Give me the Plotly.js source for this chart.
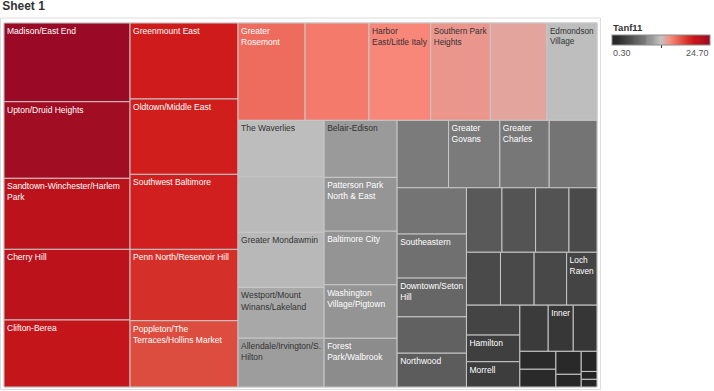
<!DOCTYPE html>
<html><head><meta charset="utf-8">
<script src="https://cdn.plot.ly/plotly-3.0.1.min.js"></script>
<style>html,body{margin:0;padding:0;background:#fff}#chart{width:714px;height:391px}</style>
</head><body><div id="chart"></div>
<script>
// Community areas (unlabelled cells in the reference get placeholder ids)
const neighborhoods = [
  "Madison/East End", "Upton/Druid Heights", "Sandtown-Winchester/Harlem Park", "Cherry Hill", "Clifton-Berea",
  "Greenmount East", "Oldtown/Middle East", "Southwest Baltimore", "Penn North/Reservoir Hill", "Poppleton/The Terraces/Hollins Market",
  "Greater Rosemont", "Area 12", "Harbor East/Little Italy", "Southern Park Heights", "Area 15", "Edmondson Village",
  "The Waverlies", "Area 18", "Greater Mondawmin", "Westport/Mount Winans/Lakeland", "Allendale/Irvington/S. Hilton",
  "Belair-Edison", "Patterson Park North & East", "Baltimore City", "Washington Village/Pigtown", "Forest Park/Walbrook",
  "Area 27", "Greater Govans", "Greater Charles", "Area 30",
  "Area 31", "Southeastern", "Downtown/Seton Hill", "Area 34", "Northwood",
  "Area 36", "Area 37", "Area 38", "Area 39",
  "Area 40", "Area 41", "Area 42", "Loch Raven",
  "Area 44", "Hamilton", "Morrell",
  "Area 47", "Inner", "Area 49",
  "Area 50", "Area 51",
  "Area 52", "Area 53",
  "Area 54", "Area 55", "Area 56"
];
const tanf11 = [
  24.70, 24.04, 22.28, 22.18, 21.02,
  20.44, 20.26, 20.17, 19.18, 17.83,
  16.24, 15.51, 14.95, 14.47, 13.70, 12.15,
  12.10, 11.90, 11.82, 10.88, 10.46,
  10.36, 9.78, 9.74, 9.72, 8.85,
  8.63, 8.61, 8.28, 8.02,
  7.99, 7.60, 6.69, 6.27, 5.83,
  5.70, 5.40, 5.36, 4.50,
  4.48, 4.43, 4.28, 4.00,
  3.98, 3.54, 3.36,
  3.26, 2.88, 2.73,
  1.61, 1.59,
  1.45, 0.80,
  0.79, 0.31, 0.30
];
const cellLabels = [
  "Madison/East End", "Upton/Druid Heights", "Sandtown-Winchester/Harlem<br>Park", "Cherry Hill", "Clifton-Berea",
  "Greenmount East", "Oldtown/Middle East", "Southwest Baltimore", "Penn North/Reservoir Hill", "Poppleton/The<br>Terraces/Hollins Market",
  "Greater<br>Rosemont", "", "Harbor<br>East/Little Italy", "Southern Park<br>Heights", "", "Edmondson<br>Village",
  "The Waverlies", "", "Greater Mondawmin", "Westport/Mount<br>Winans/Lakeland", "Allendale/Irvington/S.<br>Hilton",
  "Belair-Edison", "Patterson Park<br>North & East", "Baltimore City", "Washington<br>Village/Pigtown", "Forest<br>Park/Walbrook",
  "", "Greater<br>Govans", "Greater<br>Charles", "",
  "", "Southeastern", "Downtown/Seton<br>Hill", "", "Northwood",
  "", "", "", "",
  "", "", "", "Loch<br>Raven",
  "", "Hamilton", "Morrell",
  "", "Inner", "",
  "", "",
  "", "",
  "", "", ""
];
const legendTitle = "Tanf11";
const legendMin = 0.30, legendMax = 24.70;

const colorscale = [
  [0.000, '#242424'], [0.060, '#2b2b2b'], [0.120, '#3b3b3b'], [0.160, '#474747'],
  [0.200, '#505050'], [0.230, '#5d5d5d'], [0.300, '#707070'], [0.342, '#7b7b7b'],
  [0.350, '#8c8c8c'], [0.390, '#959595'], [0.412, '#9a9a9a'], [0.434, '#a8a8a8'],
  [0.472, '#b8b8b8'], [0.490, '#c0c0c0'], [0.500, '#c4c4c4'], [0.550, '#e4a39c'],
  [0.580, '#ea978d'], [0.600, '#f8877a'], [0.623, '#f47b6c'], [0.655, '#ee6b5d'],
  [0.720, '#dd4c3e'], [0.775, '#d52e29'], [0.825, '#cf1b1b'], [0.850, '#c4151b'],
  [0.900, '#bb121b'], [0.970, '#a20d22'], [1.000, '#9a0a26']
];
const textColors = tanf11.map(v => (v >= 10 && v <= 15) ? '#333333' : '#ffffff');

const W = 714, H = 391, L = 4, R = 117, T = 23, B = 4;
const pw = W - L - R, ph = H - T - B;
const px = x => (x - L) / pw;
const py = y => (H - B - y) / ph;
const font = 'Arial, Liberation Sans, sans-serif';

const trace = {
  type: 'treemap',
  labels: neighborhoods,
  parents: neighborhoods.map(() => ''),
  values: tanf11,
  text: cellLabels,
  texttemplate: '%{text}',
  textposition: 'top left',
  textfont: {family: font, size: 8.5, color: textColors},
  insidetextfont: {family: font, size: 8.5, color: textColors},
  hoverinfo: 'none',
  sort: true,
  tiling: {packing: 'squarify', squarifyratio: 1.618034, pad: 0},
  pathbar: {visible: false},
  marker: {
    colors: tanf11, colorscale: colorscale, cmin: legendMin, cmax: legendMax,
    showscale: true,
    line: {width: 1, color: '#c8c8c8'},
    pad: {t: 0, l: 0, r: 0, b: 0},
    colorbar: {
      orientation: 'h', x: px(612), xanchor: 'left', y: py(35.5), yanchor: 'top',
      len: 98, lenmode: 'pixels', thickness: 10, xpad: 0, ypad: 0,
      outlinewidth: 1, outlinecolor: '#8c8c8c',
      tickmode: 'array', tickvals: [12.5], ticks: 'outside', ticklen: 3, tickcolor: '#333',
      showticklabels: false, bgcolor: 'rgba(0,0,0,0)', borderwidth: 0
    }
  },
  domain: {x: [0, 1], y: [0, 1]}
};

const layout = {
  width: W, height: H,
  margin: {l: L, r: R, t: T, b: B, autoexpand: false},
  paper_bgcolor: '#ffffff',
  title: {text: 'Sheet 1', xref: 'container', yref: 'container', x: 0.003, xanchor: 'left', y: 0.997, yanchor: 'top',
          font: {family: 'Arial, Liberation Sans, sans-serif', size: 12, color: '#333333', weight: 'bold'}},
  shapes: [{type: 'rect', xref: 'paper', yref: 'paper', x0: px(0.5), x1: px(600.5), y0: py(389.5), y1: py(18),
            line: {color: '#dcdcdc', width: 1}, fillcolor: 'rgba(0,0,0,0)', layer: 'below'}],
  annotations: [
    {text: legendTitle, xref: 'paper', yref: 'paper', x: px(611), y: py(27.5), xanchor: 'left', yanchor: 'middle', showarrow: false,
     font: {family: 'Arial, Liberation Sans, sans-serif', size: 9.5, color: '#333333', weight: 'bold'}},
    {text: legendMin.toFixed(2), xref: 'paper', yref: 'paper', x: px(611), y: py(52.5), xanchor: 'left', yanchor: 'middle', showarrow: false,
     font: {family: 'Arial, Liberation Sans, sans-serif', size: 9, color: '#555555'}},
    {text: legendMax.toFixed(2), xref: 'paper', yref: 'paper', x: px(711), y: py(52.5), xanchor: 'right', yanchor: 'middle', showarrow: false,
     font: {family: 'Arial, Liberation Sans, sans-serif', size: 9, color: '#555555'}}
  ]
};

Plotly.newPlot('chart', [trace], layout, {displayModeBar: false, staticPlot: true});
</script>
</body></html>
